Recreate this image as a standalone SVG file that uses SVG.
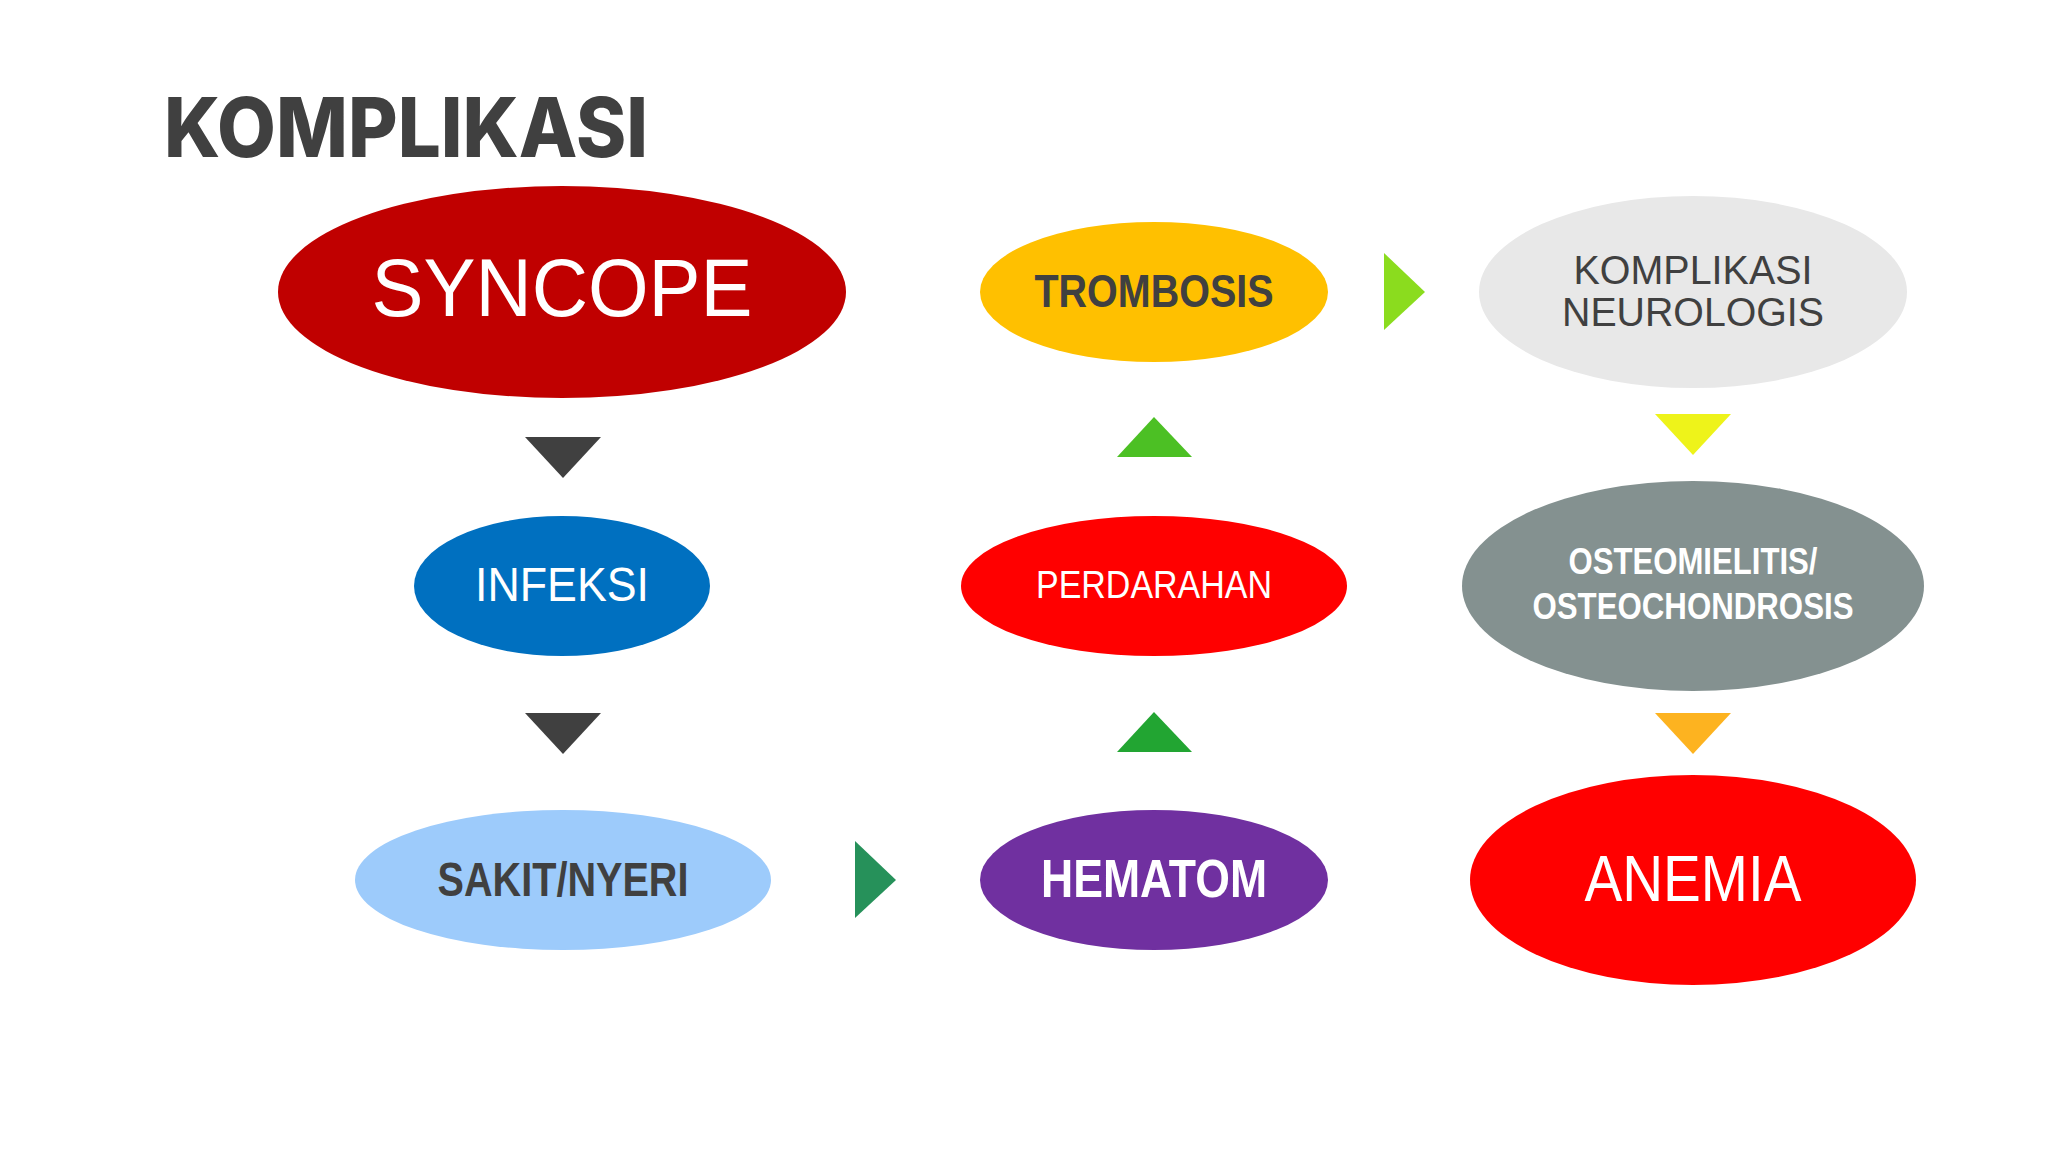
<svg xmlns="http://www.w3.org/2000/svg" width="2048" height="1152" viewBox="0 0 2048 1152">
<style>
text{font-family:"Liberation Sans",Arial,sans-serif;text-anchor:middle}
.w{fill:#ffffff}
.d{fill:#404040}
.b{font-weight:bold}
</style>
<rect width="2048" height="1152" fill="#ffffff"/>
<text x="164" y="157" style="text-anchor:start;font-family:Inter,'Open Sans','Liberation Sans',sans-serif;font-weight:800" font-size="82" fill="#404040" textLength="484" lengthAdjust="spacingAndGlyphs">KOMPLIKASI</text>

<g id="syncope">
<ellipse cx="562" cy="292" rx="284" ry="106" fill="#c00000"/>
<text class="w" x="562" y="316" font-size="82" textLength="381" lengthAdjust="spacingAndGlyphs">SYNCOPE</text>
</g>
<g id="trombosis">
<ellipse cx="1154" cy="292" rx="174" ry="70" fill="#ffc000"/>
<text class="d b" x="1154" y="307" font-size="46" textLength="239" lengthAdjust="spacingAndGlyphs">TROMBOSIS</text>
</g>
<g id="neurologis">
<ellipse cx="1693" cy="292" rx="214" ry="96" fill="#e8e8e8"/>
<text class="d" x="1693" y="284" font-size="41" textLength="239" lengthAdjust="spacingAndGlyphs">KOMPLIKASI</text>
<text class="d" x="1693" y="326" font-size="41" textLength="262" lengthAdjust="spacingAndGlyphs">NEUROLOGIS</text>
</g>
<g id="infeksi">
<ellipse cx="562" cy="586" rx="148" ry="70" fill="#0070c0"/>
<text class="w" x="562" y="601" font-size="49" textLength="174" lengthAdjust="spacingAndGlyphs">INFEKSI</text>
</g>
<g id="perdarahan">
<ellipse cx="1154" cy="586" rx="193" ry="70" fill="#ff0000"/>
<text class="w" x="1154" y="598" font-size="38" textLength="236" lengthAdjust="spacingAndGlyphs">PERDARAHAN</text>
</g>
<g id="osteo">
<ellipse cx="1693" cy="586" rx="231" ry="105" fill="#849190"/>
<text class="w b" x="1693" y="574" font-size="36" textLength="249" lengthAdjust="spacingAndGlyphs">OSTEOMIELITIS/</text>
<text class="w b" x="1693" y="619" font-size="36" textLength="321" lengthAdjust="spacingAndGlyphs">OSTEOCHONDROSIS</text>
</g>
<g id="sakit">
<ellipse cx="563" cy="880" rx="208" ry="70" fill="#9dcbfb"/>
<text class="d b" x="563" y="896" font-size="48" textLength="251" lengthAdjust="spacingAndGlyphs">SAKIT/NYERI</text>
</g>
<g id="hematom">
<ellipse cx="1154" cy="880" rx="174" ry="70" fill="#7030a0"/>
<text class="w b" x="1154" y="897" font-size="54" textLength="226" lengthAdjust="spacingAndGlyphs">HEMATOM</text>
</g>
<g id="anemia">
<ellipse cx="1693" cy="880" rx="223" ry="105" fill="#ff0000"/>
<text class="w" x="1693" y="901" font-size="65" textLength="217" lengthAdjust="spacingAndGlyphs">ANEMIA</text>
</g>

<g id="connectors">
<polygon points="525,437 601,437 563,478" fill="#404040"/>
<polygon points="525,713 601,713 563,754" fill="#404040"/>
<polygon points="855,841 896,880 855,918" fill="#26915a"/>
<polygon points="1117,752 1192,752 1154,712" fill="#22a532"/>
<polygon points="1117,457 1192,457 1154,417" fill="#4cc024"/>
<polygon points="1384,253 1425,292 1384,330" fill="#8bdc1e"/>
<polygon points="1655,414 1731,414 1693,455" fill="#eef31a"/>
<polygon points="1655,713 1731,713 1693,754" fill="#fdb320"/>
</g>
</svg>
